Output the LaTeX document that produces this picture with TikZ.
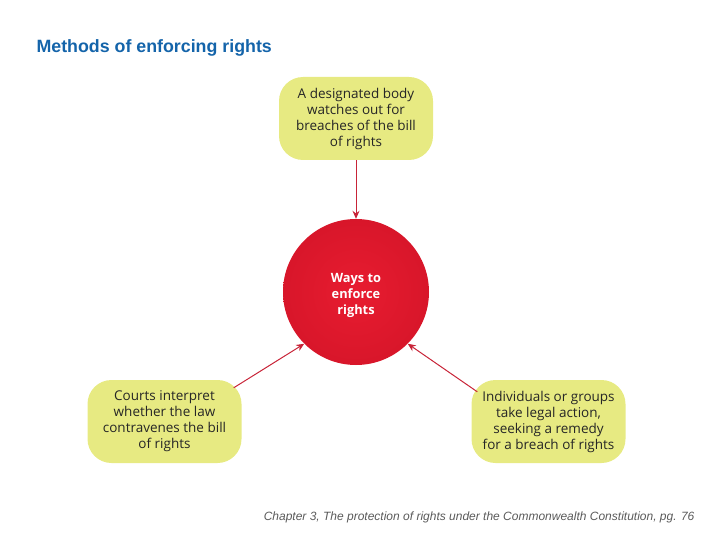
\documentclass[tikz,border=0pt]{standalone}
\usepackage{fontspec}
\setmainfont{Liberation Sans}
\newfontfamily\boxfont{Open Sans}
\usetikzlibrary{arrows.meta}
\definecolor{boxyellow}{RGB}{231,234,130}
\definecolor{ballred}{RGB}{232,28,48}
\definecolor{ballredd}{RGB}{216,22,42}
\definecolor{arrowred}{RGB}{200,36,56}
\definecolor{titleblue}{RGB}{20,100,170}
\definecolor{footgray}{RGB}{90,90,90}
\tikzset{
  idea/.style={fill=boxyellow, rounded corners=24pt, minimum width=154pt, minimum height=83pt,
    align=center, inner sep=0pt, font=\boxfont\fontsize{13.5}{16}\selectfont, text=black!85},
  link/.style={draw=arrowred, line width=1pt, -{Stealth[length=8pt,width=7pt]}}
}
\begin{document}
\begin{tikzpicture}[x=1pt,y=-1pt]
\useasboundingbox (0,0) rectangle (720,540);
\node[anchor=west, font=\bfseries\fontsize{17.8}{20}\selectfont, text=titleblue] (title) at (33,48) {Methods of enforcing rights};
\node[idea] (top) at (356,118.5) {A designated body\\watches out for\\breaches of the bill\\of rights};
\node[idea] (left) at (164.5,421.5) {Courts interpret\\whether the law\\contravenes the bill\\of rights};
\node[idea] (right) at (548.5,421.5) {Individuals or groups\\take legal action,\\seeking a remedy\\for a breach of rights};
\node[circle, minimum size=146pt, inner sep=0pt, inner color=ballred, outer color=ballredd, align=center,
  text=white, font=\boxfont\bfseries\fontsize{12.8}{16}\selectfont] (ball) at (356,292) {\raisebox{-3pt}[\height][\depth]{\parbox{80pt}{\centering Ways to\\enforce\\rights}}};
\draw[link] (top) -- (ball);
\draw[link] (left.north east) ++(-8,8) coordinate (ls) -- (ball.-135);
\draw[link] (right.north west) ++(6,12) coordinate (rs) -- (ball.-45);
\node[anchor=east, font=\itshape\fontsize{12}{14}\selectfont, text=footgray] (foot) at (698,517) {Chapter 3, The protection of rights under the Commonwealth Constitution, pg. 76};
\end{tikzpicture}
\end{document}
